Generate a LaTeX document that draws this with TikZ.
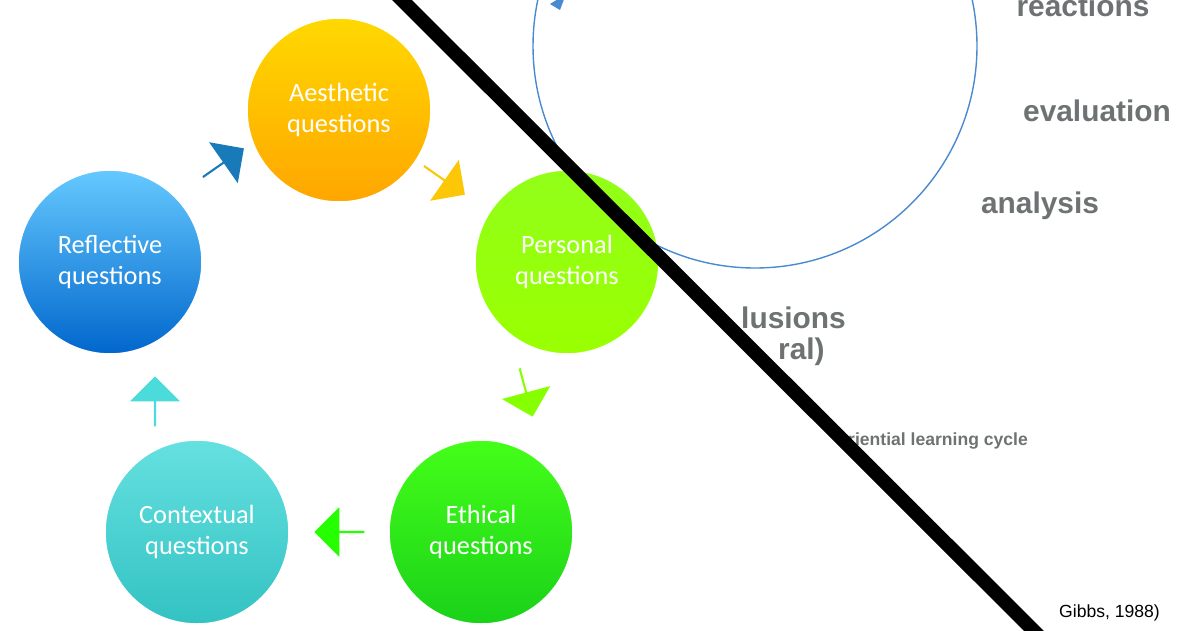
\documentclass[tikz,border=0pt]{standalone}
\usepackage{fontspec}
\setmainfont{Carlito}
\newfontfamily\gibbsfont{Liberation Sans}
\usetikzlibrary{shapes.arrows,positioning}
\definecolor{gibbsgray}{HTML}{6E7272}
\definecolor{cyclering}{HTML}{4A8AD0}
\newlength{\px}
\setlength{\px}{0.02cm}
\tikzset{
    question/.style={
           circle,
           minimum size=186\px,
           draw=white, line width=2pt,
           text=white,
           align=center,
           font=\fontsize{15}{18}\selectfont,
           },
    turn/.style={
           single arrow,
           minimum height=50\px,
           minimum width=50\px,
           single arrow head extend=8\px,
           inner sep=0pt,
           },
    stage/.style={
           font=\gibbsfont\bfseries\fontsize{17}{19}\selectfont,
           text=gibbsgray,
           },
}

\begin{document}
\begin{tikzpicture}[x=0.02cm,y=-0.02cm]
 \useasboundingbox (0,0) rectangle (1200,630);

 % the five questions
 \node[question,top color=yellow!70!orange,bottom color=orange!70!yellow] (Aesthetic) at (339,110) {Aesthetic\\questions};
 \node[question,top color=lime!70!green!90,bottom color=lime!80!green] (Personal) at (567,262) {Personal\\questions};
 \node[question,top color=green!75!lime!90,bottom color=green!80!black!90] (Ethical) at (481,532) {Ethical\\questions};
 \node[question,top color=teal!40!cyan!60,bottom color=teal!60!cyan!80] (Contextual) at (197,532) {Contextual\\questions};
 \node[question,top color=blue!35!cyan!60,bottom color=blue!50!cyan!80!black] (Reflective) at (110,262) {Reflective\\questions};

 % arrows between the questions
 \node[turn,fill=blue!40!cyan!70!black!90,rotate=35] (TurnA) at (223,163) {};
 \node[turn,fill=yellow!60!orange,rotate=-35] (TurnB) at (444,180) {};
 \node[turn,fill=lime!70!green,rotate=-75] (TurnC) at (526,392) {};
 \node[turn,fill=green!80!lime,rotate=180] (TurnD) at (340,532) {};
 \node[turn,fill=teal!40!cyan!70,rotate=90] (TurnE) at (155,402) {};

 % the Gibbs cycle, right of the bar
 \begin{scope}
  \clip (392,0) -- (1200,0) -- (1200,630) -- (1037,630) -- cycle;
  \node[draw=cyclering,thick,circle,minimum size=444\px] (Ring) at (755,46) {};
  \fill[cyclering] (566,-6) -- (550,4) -- (560,10) -- cycle;
  \node[stage] (Reactions) at (1083,6) {reactions};
  \node[stage] (Evaluation) at (1097,111) {evaluation};
  \node[stage] (Analysis) at (1040,206) {analysis};
  \node[stage,anchor=west] (Conclusions) at (735,318) {lusions};
  \node[stage,anchor=west] (General) at (772,352) {ral)};
  \node[anchor=west,text=gibbsgray,font=\gibbsfont\bfseries\fontsize{10}{12}\selectfont] (Caption) at (842,441) {riential learning cycle};
  \node[anchor=west,font=\gibbsfont\fontsize{10}{12}\selectfont] (Johns) at (853,613) {(Johns, 1994;};
  \node[anchor=west,font=\gibbsfont\fontsize{10}{12}\selectfont] (Gibbs) at (1053,613) {Gibbs, 1988)};
 \end{scope}

 % the dividing bar
 \coordinate (BarTop) at (392,-10);
 \coordinate (BarEnd) at (1043,640);
 \draw[line width=14\px] (BarTop) -- (BarEnd);

\end{tikzpicture}
\end{document}
